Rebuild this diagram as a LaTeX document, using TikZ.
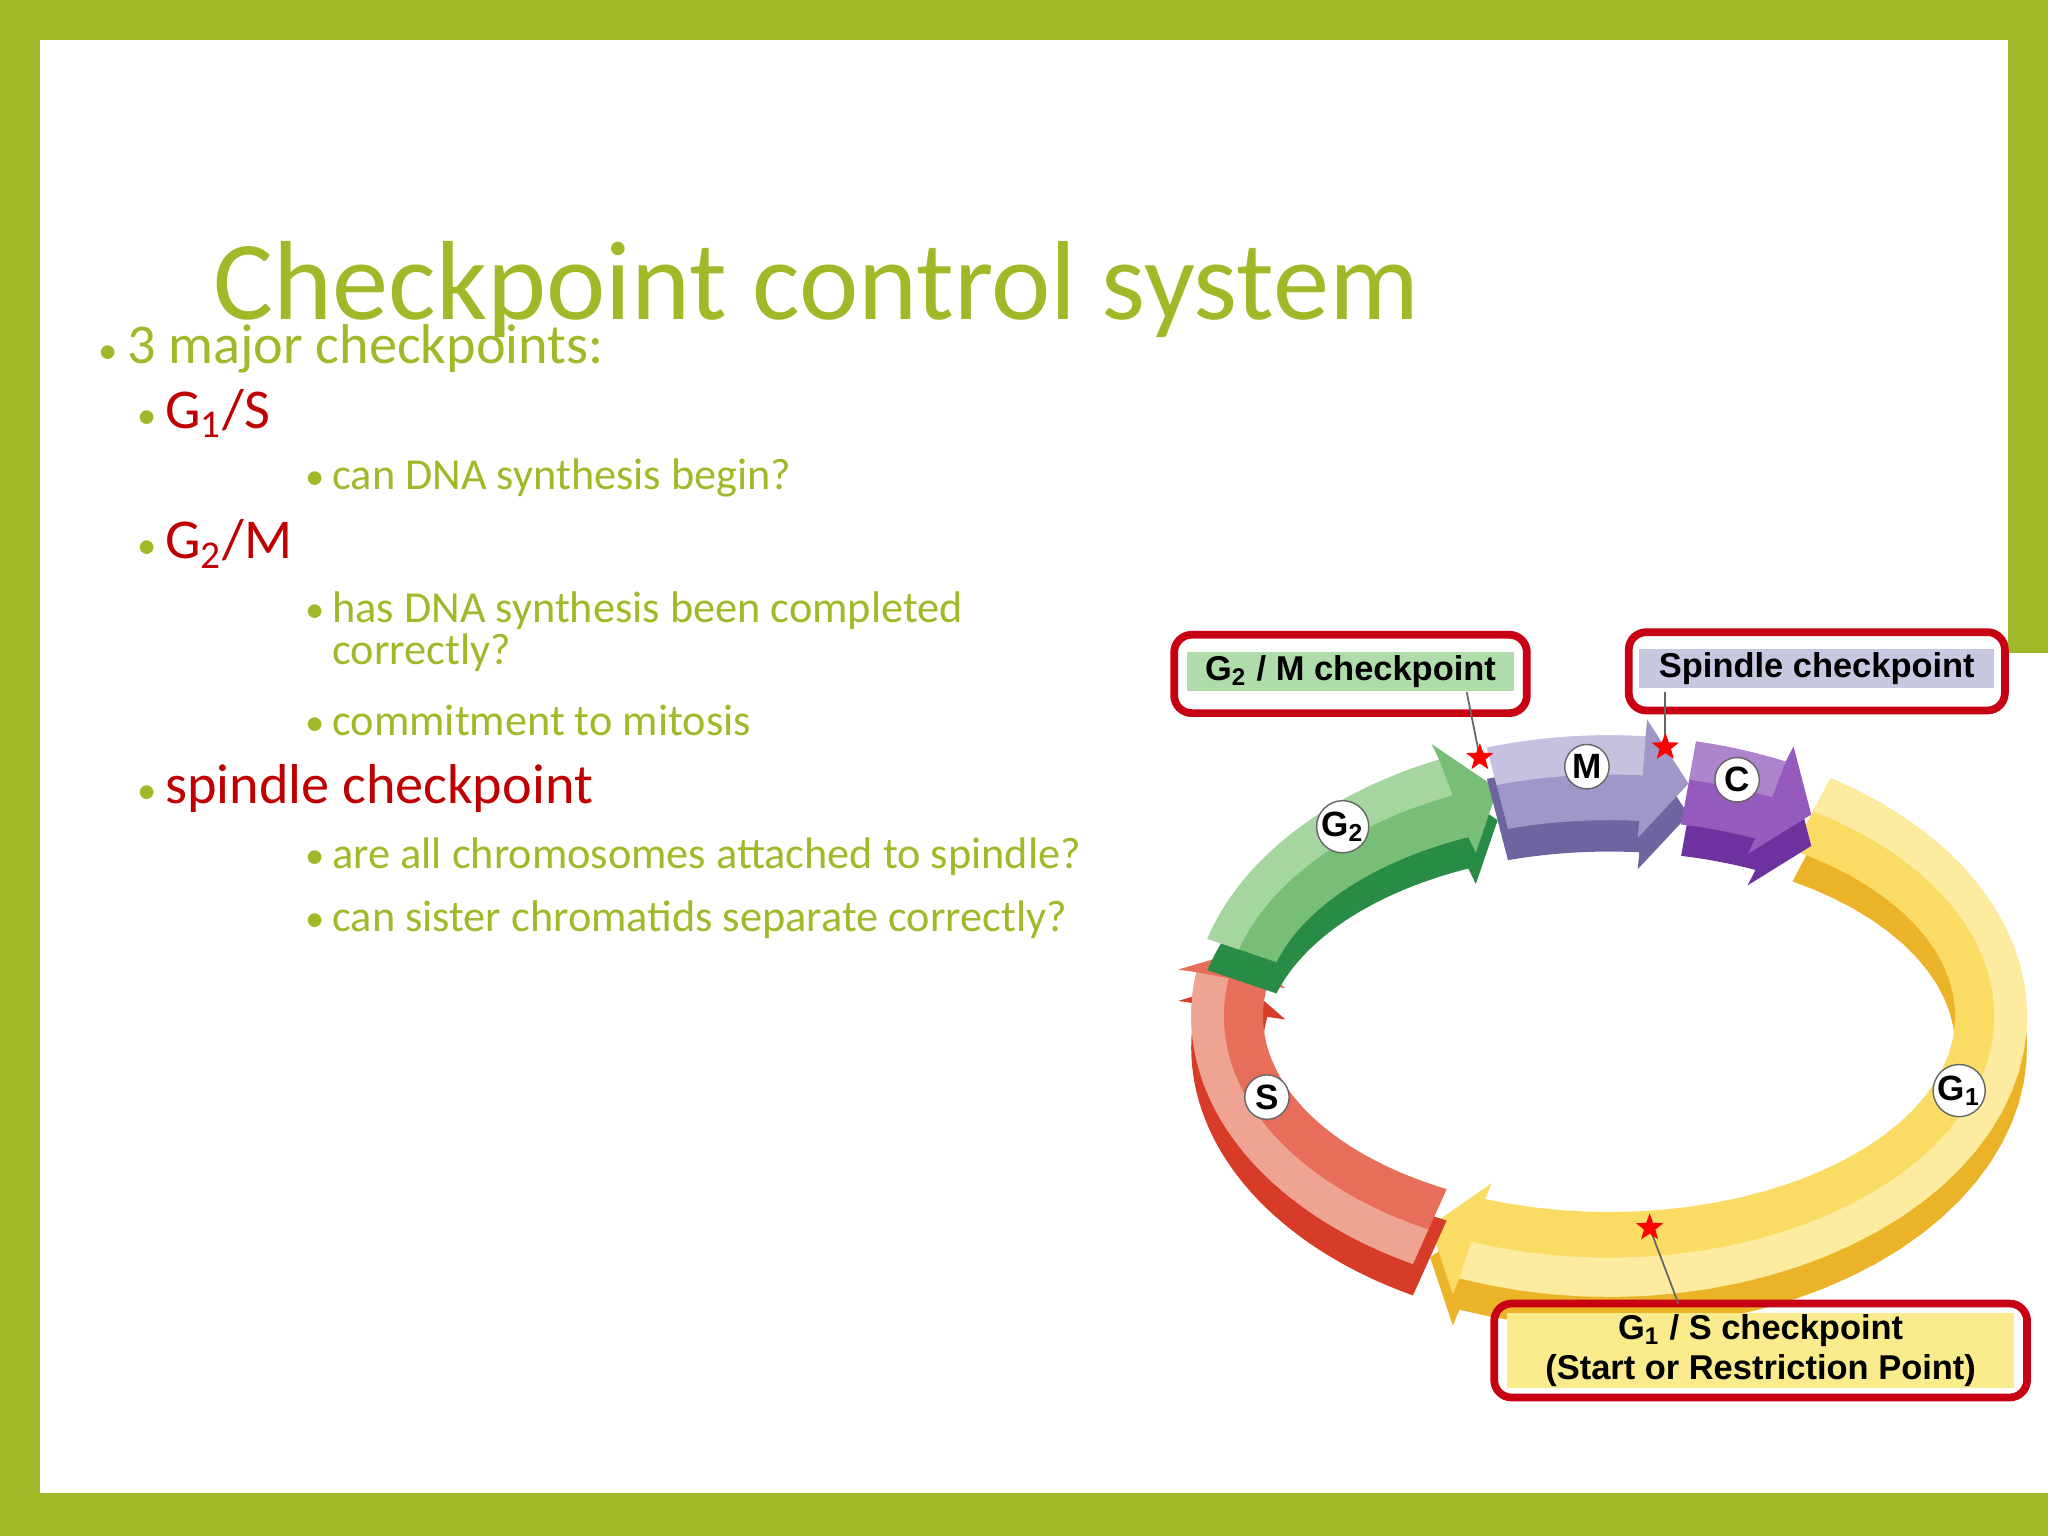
\documentclass[tikz,border=0pt]{standalone}
\usepackage{fontspec}
\usetikzlibrary{shapes.geometric}
\setmainfont{Carlito}
\newfontfamily\arl{Liberation Sans}
\definecolor{olive}{RGB}{160,185,40}
\definecolor{dred}{RGB}{192,0,0}
\definecolor{boxred}{RGB}{200,0,20}
\def\u{0.013061cm}
\begin{document}
\begin{tikzpicture}[x=0.013061cm,y=0.013061cm,
  l1/.style={anchor=base west,text=olive,font=\fontsize{16}{19}\selectfont,inner sep=0},
  l2/.style={anchor=base west,text=dred,font=\fontsize{16}{19}\selectfont,inner sep=0},
  l3/.style={anchor=base west,text=olive,font=\fontsize{12.6}{15.5}\selectfont,inner sep=0},
  bul/.style={anchor=base west,text=olive,font=\fontsize{11}{13}\selectfont,inner sep=0},
  lab/.style={circle,fill=white,draw=black!60,inner sep=0pt,minimum size=34*\u,font=\arl\bfseries\fontsize{10}{12}\selectfont},
  box/.style={draw=boxred,line width=2.2pt,rounded corners=5pt,inner sep=0},
  btxt/.style={font=\arl\bfseries\fontsize{9.8}{11.5}\selectfont,align=center,inner sep=0},
  lead/.style={draw=black!60,line width=0.5pt}]
\useasboundingbox (0,0) rectangle (1568,1176);
\fill[olive] (0,0) rectangle (1568,1176);
\fill[white] (31,33) rectangle (1537,1145);
\fill[white] (1536,33) rectangle (1568,676);
\node[anchor=base west,text=olive,font=\fontsize{32}{38}\selectfont,inner sep=0] (title) at (163,931) {Checkpoint control system};
\node[bul] (p1) at (75,898) {\textbullet};
\node[l1] (b1) at (97,898) {3 major checkpoints:};
\node[bul] (p2) at (105,848) {\textbullet};
\node[l2] (b2) at (126,848) {G\textsubscript{1}/S};
\node[bul] (p3) at (233,801) {\textbullet};
\node[l3] (b3) at (254,801) {can DNA synthesis begin?};
\node[bul] (p4) at (105,748) {\textbullet};
\node[l2] (b4) at (126,748) {G\textsubscript{2}/M};
\node[bul] (p5) at (233,699) {\textbullet};
\node[l3] (b5) at (254,699) {has DNA synthesis been completed};
\node[l3] (b6) at (254,667) {correctly?};
\node[bul] (p7) at (233,613) {\textbullet};
\node[l3] (b7) at (254,613) {commitment to mitosis};
\node[bul] (p8) at (105,561) {\textbullet};
\node[l2] (b8) at (126,561) {spindle checkpoint};
\node[bul] (p9) at (233,511) {\textbullet};
\node[l3] (b9) at (254,511) {are all chromosomes attached to spindle?};
\node[bul] (p10) at (233,463) {\textbullet};
\node[l3] (b10) at (254,463) {can sister chromatids separate correctly?};
\newcommand\seg[5]{%
 \pgfmathsetmacro\hb{#2+7}%
 \foreach \cy/\cc in {374/#4,398/#3}{%
 \fill[\cc] plot[domain=#1:\hb,samples=40] ({1232+320*cos(\x)},{\cy+215*sin(\x)})
  -- ({1232+334*cos(\hb)},{\cy+228*sin(\hb)})
  -- ({1232+292*cos(#2)},{\cy+182*sin(#2)})
  -- ({1232+251*cos(\hb)},{\cy+137*sin(\hb)})
  -- plot[domain=\hb:#1,samples=40] ({1232+265*cos(\x)},{\cy+150*sin(\x)}) -- cycle;}%
 \fill[#5,opacity=0.6] plot[domain=#1:\hb,samples=40] ({1232+320*cos(\x)},{398+215*sin(\x)})
  -- plot[domain=\hb:#1,samples=40] ({1232+295*cos(\x)},{398+185*sin(\x)}) -- cycle;
}
\definecolor{ytop}{RGB}{250,220,100}\definecolor{ysh}{RGB}{235,180,40}\definecolor{ylt}{RGB}{255,245,200}
\definecolor{rtop}{RGB}{230,110,90}\definecolor{rsh}{RGB}{215,60,40}\definecolor{rlt}{RGB}{245,200,185}
\definecolor{gtop}{RGB}{120,190,120}\definecolor{gsh}{RGB}{40,140,70}\definecolor{glt}{RGB}{195,230,185}
\definecolor{mtop}{RGB}{160,150,200}\definecolor{msh}{RGB}{110,100,160}\definecolor{mlt}{RGB}{225,222,240}
\definecolor{ctop}{RGB}{150,90,190}\definecolor{csh}{RGB}{110,50,160}\definecolor{clt}{RGB}{190,160,215}
\seg{58}{-118}{ytop}{ysh}{ylt}
\seg{242}{164}{rtop}{rsh}{rlt}
\seg{164}{107}{gtop}{gsh}{glt}
\seg{107}{78}{mtop}{msh}{mlt}
\seg{78}{58}{ctop}{csh}{clt}
\node[lab] (M) at (1215,589) {M};
\node[lab] (C) at (1330,579) {C};
\node[lab] (G2) at (1028,543) {G\textsubscript{2}};
\node[lab] (S) at (970,336) {S};
\node[lab] (G1) at (1500,341) {G\textsubscript{1}};
\coordinate (s1) at (1133,596);
\coordinate (s2) at (1275,604);
\coordinate (s3) at (1263,236);
\node[box,minimum width=270*\u,minimum height=60*\u] (bgm) at (1034,660) {};
\node[btxt,fill={rgb,255:red,175;green,220;blue,170},minimum width=250*\u,minimum height=30*\u] (tgm) at (1034,662) {G\textsubscript{2} / M checkpoint};
\node[box,minimum width=288*\u,minimum height=60*\u] (bsp) at (1391,662) {};
\node[btxt,fill={rgb,255:red,200;green,200;blue,225},minimum width=272*\u,minimum height=30*\u] (tsp) at (1391,664) {Spindle checkpoint};
\node[box,minimum width=408*\u,minimum height=72*\u] (bg1) at (1348,142) {};
\node[btxt,fill={rgb,255:red,250;green,235;blue,140},minimum width=388*\u,minimum height=58*\u] (tg1) at (1348,142) {G\textsubscript{1} / S checkpoint\\(Start or Restriction Point)};
\draw[lead] (s1) -- (1123,646);
\draw[lead] (s2) -- (1275,646);
\draw[lead] (s3) -- (1285,178);
\foreach \s in {s1,s2,s3}{\node[star,star points=5,star point ratio=2.4,fill=red,inner sep=0,minimum size=22*\u] at (\s) {};}
\end{tikzpicture}
\end{document}
